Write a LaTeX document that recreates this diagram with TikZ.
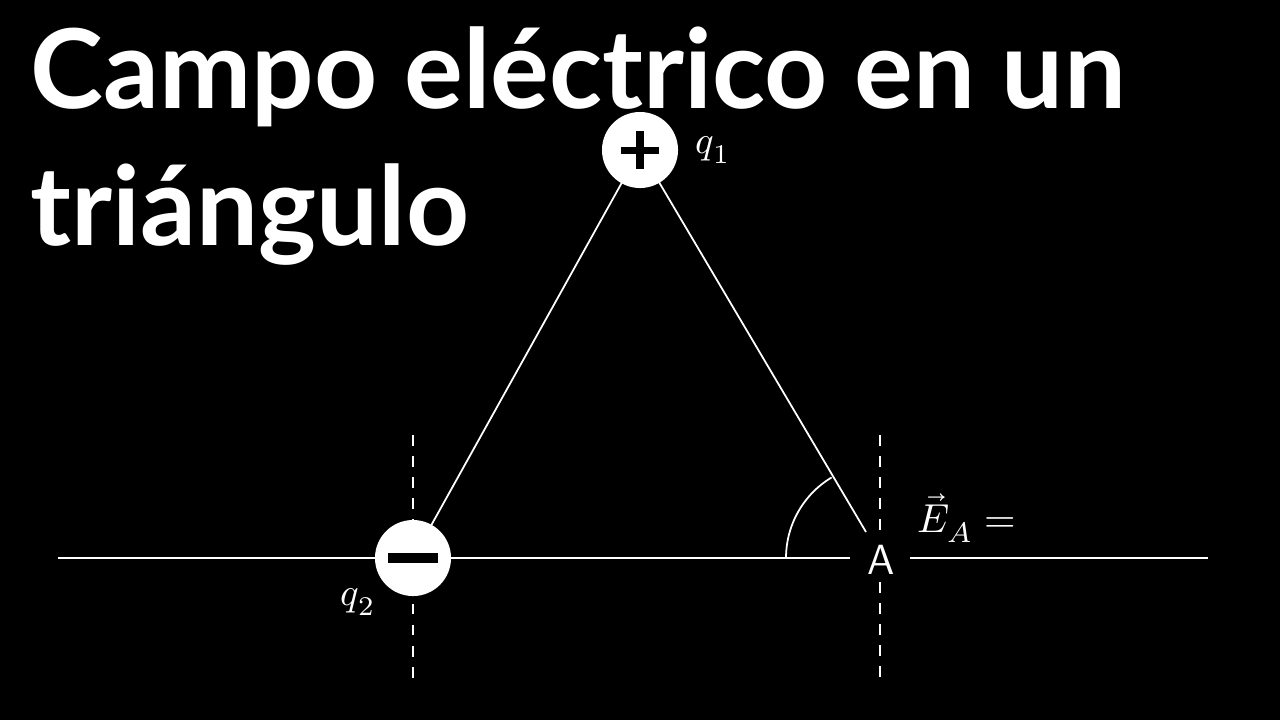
\documentclass[tikz,border=0pt]{standalone}
\usepackage{fontspec}
\setmainfont{Lato}
\newfontfamily\titlefont{Lato Bold}
\usepackage{unicode-math}
\begin{document}
\begin{tikzpicture}[x=0.01cm,y=-0.01cm,
  wl/.style={white, line width=0.5pt},
  charge/.style={circle, fill=white, minimum size=0.76cm, inner sep=0pt},
  sgn/.style={black, line width=2pt}]
\fill[black] (0,0) rectangle (1280,720);
\useasboundingbox (0,0) rectangle (1280,720);
\node[anchor=base west, white, inner sep=0pt, font=\titlefont\fontsize{31.3}{31.3}\selectfont] (t1) at (30,108) {Campo eléctrico en un};
\node[anchor=base west, white, inner sep=0pt, font=\titlefont\fontsize{31.3}{31.3}\selectfont] (t2) at (30,245) {triángulo};
\coordinate (c1) at (640,150);
\coordinate (c2) at (413,558);
\node[white, inner sep=1pt, font=\sffamily\fontsize{12}{12}\selectfont] (A) at (881,560) {A};
\draw[wl] (58,558) -- (c2);
\draw[wl] (c2) -- (850,558);
\draw[wl] (910,558) -- (1208,558);
\draw[wl] (c1) -- (c2);
\draw[wl] (c1) -- (866,532);
\draw[wl, dashed] (413,435) -- (413,682);
\draw[wl, dashed] (880,435) -- (880,535);
\draw[wl, dashed] (880,582) -- (880,682);
\draw[wl] (786,558) arc[start angle=180, end angle=239, radius=94];
\node[charge] (q1) at (c1) {};
\node[charge] (q2) at (c2) {};
\draw[sgn] (621,150) -- (659,150) (640,131) -- (640,169);
\draw[sgn, line width=2.6pt] (388,558) -- (438,558);
\node[white, font=\fontsize{11}{11}\selectfont] (l1) at (713,150) {$q_1$};
\node[white, font=\fontsize{11}{11}\selectfont] (l2) at (358,602) {$q_2$};
\node[white, anchor=west, font=\fontsize{11.5}{11.5}\selectfont] (E) at (905,518) {$\vec{E}_A =$};
\end{tikzpicture}
\end{document}
